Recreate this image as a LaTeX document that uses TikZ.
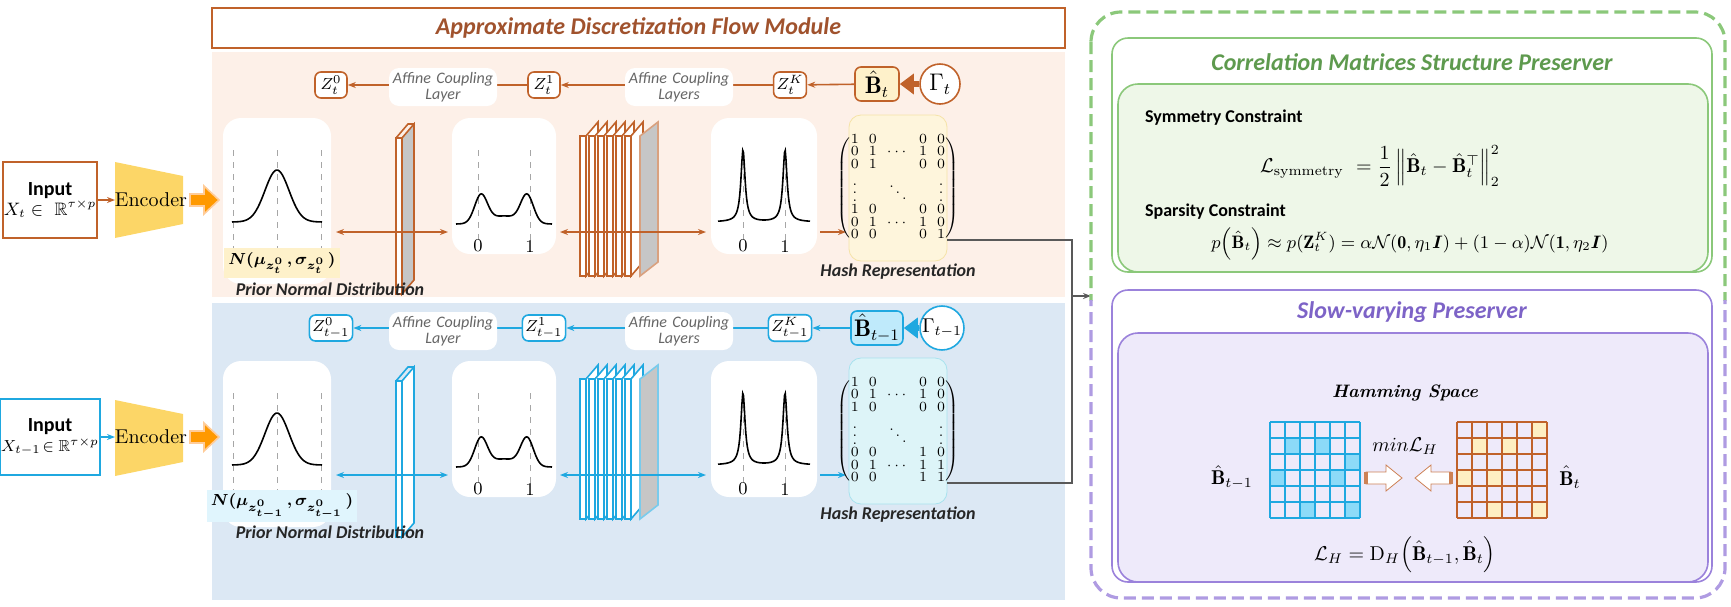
\documentclass[tikz,border=0pt]{standalone}
\usepackage{fontspec}
\usepackage{amsmath,amssymb,bm}
\newfontfamily\sansf{Carlito}
\usetikzlibrary{arrows.meta,calc}
\definecolor{org}{HTML}{C0622A}
\definecolor{brn}{HTML}{A0522D}
\definecolor{blu}{HTML}{1FA8E0}
\definecolor{peach}{HTML}{FDF0E8}
\definecolor{lblue}{HTML}{DCE8F4}
\definecolor{grn}{HTML}{8BC87A}
\definecolor{lgrn}{HTML}{EEF7E8}
\definecolor{pur}{HTML}{9B82DB}
\definecolor{lpur}{HTML}{EEEAFA}
\definecolor{ttlg}{HTML}{5E9A4E}
\definecolor{ttlp}{HTML}{7D63C7}
\definecolor{yel}{HTML}{FCD667}
\definecolor{hfA}{HTML}{FEF5DC}
\definecolor{hfB}{HTML}{DDF4F8}
\definecolor{hdA}{HTML}{F5E3A8}
\definecolor{hdB}{HTML}{A8E2EE}
\tikzset{
 zbox/.style={draw=#1,thick,rounded corners=3pt,fill=white,minimum width=16pt,minimum height=13pt,inner sep=1.5pt,font=\footnotesize},
 lab/.style={fill=white,rounded corners=5pt,font=\sansf\itshape\footnotesize,text=gray!80!black,align=center,inner sep=1pt,minimum width=50pt,minimum height=19pt,text width=52pt,execute at begin node=\setlength{\baselineskip}{8pt}},
 pan/.style={fill=white,rounded corners=9pt},
 captn/.style={font=\sansf\bfseries\itshape\small,text=black!85},
 arr/.style={-{Stealth[length=4pt]},#1,thick},
 dd/.style={gray!70,dashed,thin},
 curve/.style={thick,black},
 inbox/.style={draw=#1,thick,minimum width=47pt,minimum height=38pt,align=center,inner sep=0.5pt},
 mat/.style={font=\scriptsize,inner sep=0pt},
}
\begin{document}
\begin{tikzpicture}[x=0.5pt,y=-0.5pt]
\useasboundingbox (0,0) rectangle (1731,606);
% title
\node[draw=org,thick,minimum width=426.5pt,minimum height=20pt,font=\sansf\bfseries\itshape\large,text=brn] (title) at (638.5,28) {Approximate Discretization Flow Module};
\fill[peach] (212,52) rectangle (1065,297);
\fill[lblue] (212,303) rectangle (1065,600);

% ---------- generic row -----------
\foreach \oy/\cl/\fc/\dc/\isb/\sfill in {0/org/hfA/hdA/0/gray!45,243/blu/hfB/hdB/1/white}{%
\begin{scope}[yshift=-\oy*0.5pt]
 \node[pan,minimum width=54pt,minimum height=83pt] at (277,201) {};
 \node[pan,minimum width=52pt,minimum height=68pt] at (504,186) {};
 \node[pan,minimum width=53pt,minimum height=68pt] at (764,186) {};
 \node[fill=\fc,draw=\dc,rounded corners=6pt,minimum width=49pt,minimum height=73pt] (hash\isb) at (898,188) {};
 \foreach \x in {233,277,321} \draw[dd] (\x,150) -- (\x,255);
 \foreach \x in {478,530} \draw[dd] (\x,150) -- (\x,240);
 \foreach \x in {743,785} \draw[dd] (\x,150) -- (\x,240);
 \draw[curve,domain=232:322,samples=60] plot (\x,{222-52*exp(-((\x-277)/17)^2)});
 \draw[curve,domain=456:552,samples=80] plot (\x,{224-28*exp(-((\x-481)/9)^2)-28*exp(-((\x-527)/9)^2)-8*exp(-((\x-504)/20)^2)});
 \draw[curve,domain=718:810,samples=120] plot (\x,{222-72/(1+((\x-743)/2.5)^2)-72/(1+((\x-785)/2.5)^2)});
 \node[font=\small] at (478,246) {0};
 \node[font=\small] at (530,246) {1};
 \node[font=\small] at (743,246) {0};
 \node[font=\small] at (785,246) {1};
 \filldraw[fill=\sfill,draw=\cl,thick] (402,138) -- (414,124) -- (414,280) -- (402,294) -- cycle;
 \draw[\cl,thick,fill=white] (396,138) rectangle (402,294);
 \draw[\cl,thick] (396,138) -- (408,124) -- (414,124);
 \foreach \k in {0,...,5}{
  \filldraw[fill=white,draw=\cl,thick] (586+\k*9,136) -- (598+\k*9,122) -- (598+\k*9,262) -- (586+\k*9,276) -- cycle;
  \draw[\cl,thick,fill=white] (580+\k*9,136) rectangle (586+\k*9,276);
 }
 \filldraw[fill=gray!45,draw=\cl!60,thick] (640,136) -- (658,122) -- (658,262) -- (640,276) -- cycle;
 \draw[{Stealth[length=4pt]}-{Stealth[length=4pt]},\cl,thick] (336,232) -- (448,232);
 \draw[{Stealth[length=4pt]}-{Stealth[length=4pt]},\cl,thick] (560,232) -- (706,232);
 \draw[arr=\cl] (820,232) -- (846,232);
 \node[captn] at (330,289) {Prior Normal Distribution};
 \node[captn] at (898,272) {Hash Representation};
\end{scope}}

% --- top row specifics
\node[zbox=org] (z0) at (331,85) {$Z_t^0$};
\node[zbox=org] (z1) at (544,85) {$Z_t^1$};
\node[zbox=org] (zk) at (790,85) {$Z_t^K$};
\node[zbox=org,fill=yel!35,minimum width=22pt,minimum height=17pt,font=\large] (bt) at (877,84) {$\hat{\mathbf B}_t$};
\node[circle,draw=org,thick,fill=white,minimum size=20pt,inner sep=0pt,font=\large] (gt) at (940,84) {$\Gamma_t$};
\draw[arr=org] (z1) -- (z0);
\draw[arr=org] (zk) -- (z1);
\draw[arr=org] (bt) -- (zk);
\draw[-{Triangle[length=7pt,width=10pt]},org,line width=3pt] (gt) -- (bt);
\node[lab] (l1) at (443,87) {Affine Coupling\\Layer};
\node[lab] (l2) at (679,87) {Affine Coupling\\Layers};
\node[fill=yel!35,font=\footnotesize,inner sep=2pt,minimum width=46pt] at (282,263) {$\boldsymbol{N(\mu_{z_t^0}\,,\sigma_{z_t^0}\,)}$};
\node[mat] at (898,188) {$\setlength{\arraycolsep}{2.5pt}\renewcommand{\arraystretch}{0.72}\begin{pmatrix}1&0&&0&0\\0&1&\cdots&1&0\\0&1&&0&0\\ \vdots&&\ddots&&\vdots\\1&0&&0&0\\0&1&\cdots&1&0\\0&0&&0&1\end{pmatrix}$};

% --- bottom row specifics
\node[zbox=blu] (w0) at (331,328) {$Z_{t-1}^0$};
\node[zbox=blu] (w1) at (544,328) {$Z_{t-1}^1$};
\node[zbox=blu] (wk) at (790,328) {$Z_{t-1}^K$};
\node[zbox=blu,fill=cyan!25,minimum width=22pt,minimum height=17pt,font=\large] (bb) at (877,328) {$\hat{\mathbf B}_{t-1}$};
\node[circle,draw=blu,thick,fill=white,minimum size=20pt,inner sep=0pt] (gb) at (942,328) {$\Gamma_{t-1}$};
\draw[arr=blu] (w1) -- (w0);
\draw[arr=blu] (wk) -- (w1);
\draw[arr=blu] (bb) -- (wk);
\draw[-{Triangle[length=7pt,width=10pt]},blu,line width=3pt] (gb) -- (bb);
\node[lab] at (443,331) {Affine Coupling\\Layer};
\node[lab] at (679,331) {Affine Coupling\\Layers};
\node[fill=cyan!12,font=\footnotesize,inner sep=2pt,minimum width=46pt] at (282,506) {$\boldsymbol{N(\mu_{z_{t-1}^0}\,,\sigma_{z_{t-1}^0}\,)}$};
\node[mat] at (898,431) {$\setlength{\arraycolsep}{2.5pt}\renewcommand{\arraystretch}{0.72}\begin{pmatrix}1&0&&0&0\\0&1&\cdots&1&0\\1&0&&0&0\\ \vdots&&\ddots&&\vdots\\0&0&&1&0\\0&1&\cdots&1&1\\0&0&&1&1\end{pmatrix}$};

% inputs
\node[inbox=org] (in1) at (50,200) {{\sansf\bfseries Input}\\[-2pt] \small$X_t\in\ \mathbb{R}^{\tau\times p}$};
\node[inbox=blu] (in2) at (50,437) {{\sansf\bfseries Input}\\[-2pt] \footnotesize$X_{t-1}\!\in \mathbb{R}^{\tau\times p}$};
\fill[yel] (115,162) -- (183,176) -- (183,224) -- (115,238) -- cycle;
\fill[yel] (115,400) -- (183,414) -- (183,462) -- (115,476) -- cycle;
\node[font=\normalsize,inner sep=0pt] (e1) at (151,200) {Encoder};
\node[font=\normalsize,inner sep=0pt] (e2) at (151,437) {Encoder};
\draw[arr=org] (in1) -- (115,200);
\draw[arr=blu] (in2) -- (115,437);
\foreach \yy in {200,437}
 \fill[orange!80!yellow,draw=orange!40,thick] (190,\yy-6) -- (204,\yy-6) -- (204,\yy-14) -- (219,\yy) -- (204,\yy+14) -- (204,\yy+6) -- (190,\yy+6) -- cycle;

% connectors to right
\coordinate (j) at (1072,296);
\draw[gray!70!black,thick] (hash0.east|-0,240) -| (j);
\draw[gray!70!black,thick] (hash1.east|-0,483) -| (j);
\draw[arr=gray!70!black] (j) -- (1091,296);

% right dashed box
\begin{scope}
\clip (1085,0) rectangle (1731,300);
\draw[grn,line width=1.6pt,dash pattern=on 6pt off 3pt,rounded corners=15pt] (1091,12) rectangle (1725,598);
\end{scope}
\begin{scope}
\clip (1085,300) rectangle (1731,606);
\draw[pur!80,line width=1.6pt,dash pattern=on 6pt off 3pt,rounded corners=15pt] (1091,12) rectangle (1725,598);
\end{scope}

% correlation
\filldraw[fill=white,draw=grn,thick,rounded corners=8pt] (1112,38) rectangle (1712,272);
\node[font=\sansf\bfseries\itshape\large,text=ttlg] at (1412,62) {Correlation Matrices Structure Preserver};
\filldraw[fill=lgrn,draw=grn,thick,rounded corners=10pt] (1118,84) rectangle (1708,272);
\node[anchor=west,font=\sansf\bfseries\small] at (1138,118) {Symmetry Constraint};
\node at (1380,166) {$\mathcal{L}_{\text{symmetry}}\ =\dfrac{1}{2}\left\Vert\hat{\mathbf B}_t-\hat{\mathbf B}_t^{\top}\right\Vert_2^2$};
\node[anchor=west,font=\sansf\bfseries\small] at (1138,212) {Sparsity Constraint};
\node[font=\small] at (1410,244) {$p\Big(\hat{\mathbf B}_t\Big)\approx p(\mathbf Z_t^K)=\alpha\mathcal N(\mathbf 0,\eta_1\boldsymbol I)+(1-\alpha)\mathcal N(\mathbf 1,\eta_2\boldsymbol I)$};

% slow varying
\filldraw[fill=white,draw=pur,thick,rounded corners=8pt] (1112,290) rectangle (1712,582);
\node[font=\sansf\bfseries\itshape\large,text=ttlp] at (1412,312) {Slow-varying Preserver};
\filldraw[fill=lpur,draw=pur,thick,rounded corners=10pt] (1118,333) rectangle (1708,582);
\node[font=\bfseries\itshape\small] at (1405,393) {\addfontfeature{LetterSpace=8}Hamming Space};
\foreach \r/\cc in {2/2,2/4,3/6,4/1,4/5,6/3,6/6}
 \fill[cyan!45] (1270+\cc*15-15,422+\r*16-16) rectangle ++(15,16);
\foreach \i in {0,...,6} {
 \draw[blu,thick] (1270+\i*15,422) -- (1270+\i*15,518);
 \draw[blu,thick] (1270,422+\i*16) -- (1360,422+\i*16);}
\foreach \r/\cc in {1/6,2/2,2/4,4/1,4/3,6/3,6/6}
 \fill[yel!40] (1457+\cc*15-15,422+\r*16-16) rectangle ++(15,16);
\foreach \i in {0,...,6} {
 \draw[org,thick] (1457+\i*15,422) -- (1457+\i*15,518);
 \draw[org,thick] (1457,422+\i*16) -- (1547,422+\i*16);}
\node (bl) at (1232,477) {$\hat{\mathbf B}_{t-1}$};
\node (br) at (1570,477) {$\hat{\mathbf B}_t$};
\node at (1405,446) {$min\mathcal L_H$};
\draw[org!80,thin,fill=white] (1366,472) -- (1386,472) -- (1386,465) -- (1402,478) -- (1386,491) -- (1386,484) -- (1366,484) -- cycle;
\fill[org!80] (1364,472) rectangle (1368,484);
\draw[org!80,thin,fill=white] (1451,472) -- (1431,472) -- (1431,465) -- (1415,478) -- (1431,491) -- (1431,484) -- (1451,484) -- cycle;
\fill[org!80] (1449,472) rectangle (1453,484);
\node at (1405,555) {$\mathcal L_H=\mathrm D_H\Big(\hat{\mathbf B}_{t-1},\hat{\mathbf B}_t\Big)$};
\end{tikzpicture}
\end{document}
